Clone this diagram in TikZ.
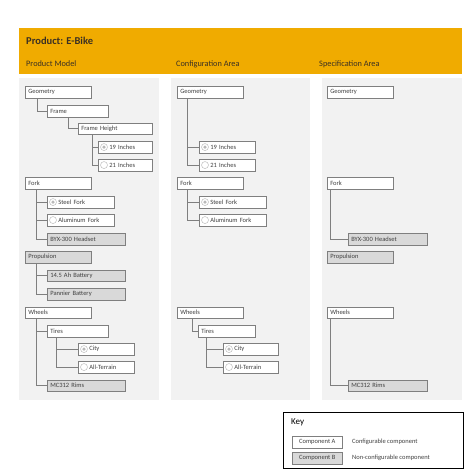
\documentclass[tikz,border=0pt]{standalone}
\usepackage{fontspec}
\setmainfont{Carlito}
\usepackage{xcolor}
\usepackage{tikz}

\definecolor{bikeorange}{HTML}{F0AB00}
\definecolor{headtext}{HTML}{3A3024}
\definecolor{panelgray}{HTML}{F2F2F2}
\definecolor{boxline}{HTML}{7F7F7F}
\definecolor{fixedfill}{HTML}{D9D9D9}
\definecolor{nodetext}{HTML}{404040}

\tikzset{
  comp/.style={draw=boxline, fill=white, line width=0.6pt, anchor=north west,
    minimum height=11.5pt, inner xsep=3pt, inner ysep=0pt, text width=#1,
    align=left, text=nodetext, font=\fontsize{6.5}{7}\selectfont},
  fixed/.style={comp=#1, fill=fixedfill},
  opt/.style={comp=#1, execute at begin node={\hspace*{8pt}}},
  radio/.style={circle, draw=gray!50, fill=white, line width=0.5pt,
    minimum size=7pt, inner sep=0pt},
  picked/.style={radio, path picture={\fill[gray!55] (path picture bounding box.center) circle (1.8pt);}},
  link/.style={draw=boxline, line width=0.7pt},
  keybox/.style={draw=boxline, fill=white, line width=0.6pt, anchor=north west,
    minimum width=50pt, minimum height=12pt, inner sep=0pt, text=nodetext,
    font=\fontsize{6.5}{7}\selectfont},
}

\begin{document}
\begin{tikzpicture}[x=1pt, y=-1pt]

\useasboundingbox (0, 0) rectangle (474, 474);

\fill[bikeorange] (19, 28) rectangle (462, 74);
\node[anchor=west, inner sep=0pt, text=headtext, font=\bfseries\fontsize{10.5}{12}\selectfont] (title) at (26, 41) {Product: E-Bike};
\node[anchor=west, inner sep=0pt, text=headtext, font=\fontsize{8.3}{9}\selectfont] (pmTitle) at (26, 64) {Product Model};
\node[anchor=west, inner sep=0pt, text=headtext, font=\fontsize{8.3}{9}\selectfont] (caTitle) at (176, 64) {Configuration Area};
\node[anchor=west, inner sep=0pt, text=headtext, font=\fontsize{8.3}{9}\selectfont] (saTitle) at (319, 64) {Specification Area};

\fill[panelgray] (19, 78) rectangle (159, 400);
\fill[panelgray] (171, 78) rectangle (310, 400);
\fill[panelgray] (322, 78) rectangle (462, 400);

% product model
\node[comp=60pt] (pmGeo) at (25, 86) {Geometry};
\node[comp=55pt] (pmFrame) at (47, 105) {Frame};
\node[comp=68pt] (pmHeight) at (78, 122.5) {Frame Height};
\node[opt=48pt] (pm19) at (98, 141) {19 Inches};
\node[opt=48pt] (pm21) at (98, 159) {21 Inches};
\node[comp=60pt] (pmFork) at (25, 177) {Fork};
\node[opt=61pt] (pmSteel) at (47, 196) {Steel Fork};
\node[opt=61pt] (pmAlu) at (47, 214) {Aluminum Fork};
\node[fixed=72pt] (pmHead) at (47, 233) {BYX-300 Headset};
\node[fixed=60pt] (pmProp) at (25, 251) {Propulsion};
\node[fixed=72pt] (pmBatt) at (47, 269.5) {14.5 Ah Battery};
\node[fixed=72pt] (pmPann) at (47, 288) {Pannier Battery};
\node[comp=60pt] (pmWheels) at (25, 306.5) {Wheels};
\node[comp=55pt] (pmTires) at (47, 325) {Tires};
\node[opt=50pt] (pmCity) at (78, 343) {City};
\node[opt=50pt] (pmAll) at (78, 361) {All-Terrain};
\node[fixed=72pt] (pmRims) at (47, 379.5) {MC312 Rims};

\node[picked] (pm19r) at ([xshift=6pt]pm19.west) {};
\node[radio] (pm21r) at ([xshift=6pt]pm21.west) {};
\node[picked] (pmSteelr) at ([xshift=6pt]pmSteel.west) {};
\node[radio] (pmAlur) at ([xshift=6pt]pmAlu.west) {};
\node[picked] (pmCityr) at ([xshift=6pt]pmCity.west) {};
\node[radio] (pmAllr) at ([xshift=6pt]pmAll.west) {};

\draw[link] ([xshift=12pt]pmGeo.south west) |- (pmFrame.west);
\draw[link] ([xshift=21pt]pmFrame.south west) |- (pmHeight.west);
\draw[link] ([xshift=14pt]pmHeight.south west) |- (pm19.west);
\draw[link] ([xshift=14pt]pmHeight.south west) |- (pm21.west);
\draw[link] ([xshift=11pt]pmFork.south west) |- (pmSteel.west);
\draw[link] ([xshift=11pt]pmFork.south west) |- (pmAlu.west);
\draw[link] ([xshift=11pt]pmFork.south west) |- (pmHead.west);
\draw[link] ([xshift=11pt]pmProp.south west) |- (pmBatt.west);
\draw[link] ([xshift=11pt]pmProp.south west) |- (pmPann.west);
\draw[link] ([xshift=11pt]pmWheels.south west) |- (pmTires.west);
\draw[link] ([xshift=11pt]pmWheels.south west) |- (pmRims.west);
\draw[link] ([xshift=9pt]pmTires.south west) |- (pmCity.west);
\draw[link] ([xshift=9pt]pmTires.south west) |- (pmAll.west);

% configuration area
\node[comp=60pt] (caGeo) at (177, 86) {Geometry};
\node[opt=50pt] (ca19) at (199, 141) {19 Inches};
\node[opt=50pt] (ca21) at (199, 159) {21 Inches};
\node[comp=60pt] (caFork) at (177, 177) {Fork};
\node[opt=61pt] (caSteel) at (199, 196) {Steel Fork};
\node[opt=61pt] (caAlu) at (199, 214) {Aluminum Fork};
\node[comp=60pt] (caWheels) at (177, 306.5) {Wheels};
\node[comp=51pt] (caTires) at (198, 325) {Tires};
\node[opt=49pt] (caCity) at (223, 343) {City};
\node[opt=49pt] (caAll) at (223, 361) {All-Terrain};

\node[picked] (ca19r) at ([xshift=6pt]ca19.west) {};
\node[radio] (ca21r) at ([xshift=6pt]ca21.west) {};
\node[picked] (caSteelr) at ([xshift=6pt]caSteel.west) {};
\node[radio] (caAlur) at ([xshift=6pt]caAlu.west) {};
\node[picked] (caCityr) at ([xshift=6pt]caCity.west) {};
\node[radio] (caAllr) at ([xshift=6pt]caAll.west) {};

\draw[link] ([xshift=10pt]caGeo.south west) |- (ca19.west);
\draw[link] ([xshift=10pt]caGeo.south west) |- (ca21.west);
\draw[link] ([xshift=10pt]caFork.south west) |- (caSteel.west);
\draw[link] ([xshift=10pt]caFork.south west) |- (caAlu.west);
\draw[link] ([xshift=15pt]caWheels.south west) |- (caTires.west);
\draw[link] ([xshift=8pt]caTires.south west) |- (caCity.west);
\draw[link] ([xshift=8pt]caTires.south west) |- (caAll.west);

% specification area
\node[comp=60pt] (saGeo) at (327, 86) {Geometry};
\node[comp=60pt] (saFork) at (327, 177) {Fork};
\node[fixed=73pt] (saHead) at (348, 233) {BYX-300 Headset};
\node[fixed=60pt] (saProp) at (327, 251) {Propulsion};
\node[comp=60pt] (saWheels) at (327, 306.5) {Wheels};
\node[fixed=73pt] (saRims) at (348, 379.5) {MC312 Rims};

\draw[link] ([xshift=3pt]saFork.south west) |- (saHead.west);
\draw[link] ([xshift=3pt]saWheels.south west) |- (saRims.west);

% key
\draw[line width=1pt] (283, 412) rectangle (463, 468);
\node[anchor=west, inner sep=0pt, font=\fontsize{9}{10}\selectfont] (keyTitle) at (291, 422) {Key};
\node[keybox] (keyA) at (292, 436) {Component A};
\node[keybox, fill=fixedfill] (keyB) at (292, 452) {Component B};
\node[anchor=west, inner sep=0pt, text=nodetext, font=\fontsize{6.5}{7}\selectfont] (keyAtxt) at (352, 442) {Configurable component};
\node[anchor=west, inner sep=0pt, text=nodetext, font=\fontsize{6.5}{7}\selectfont] (keyBtxt) at (352, 458) {Non-configurable component};

\end{tikzpicture}
\end{document}
